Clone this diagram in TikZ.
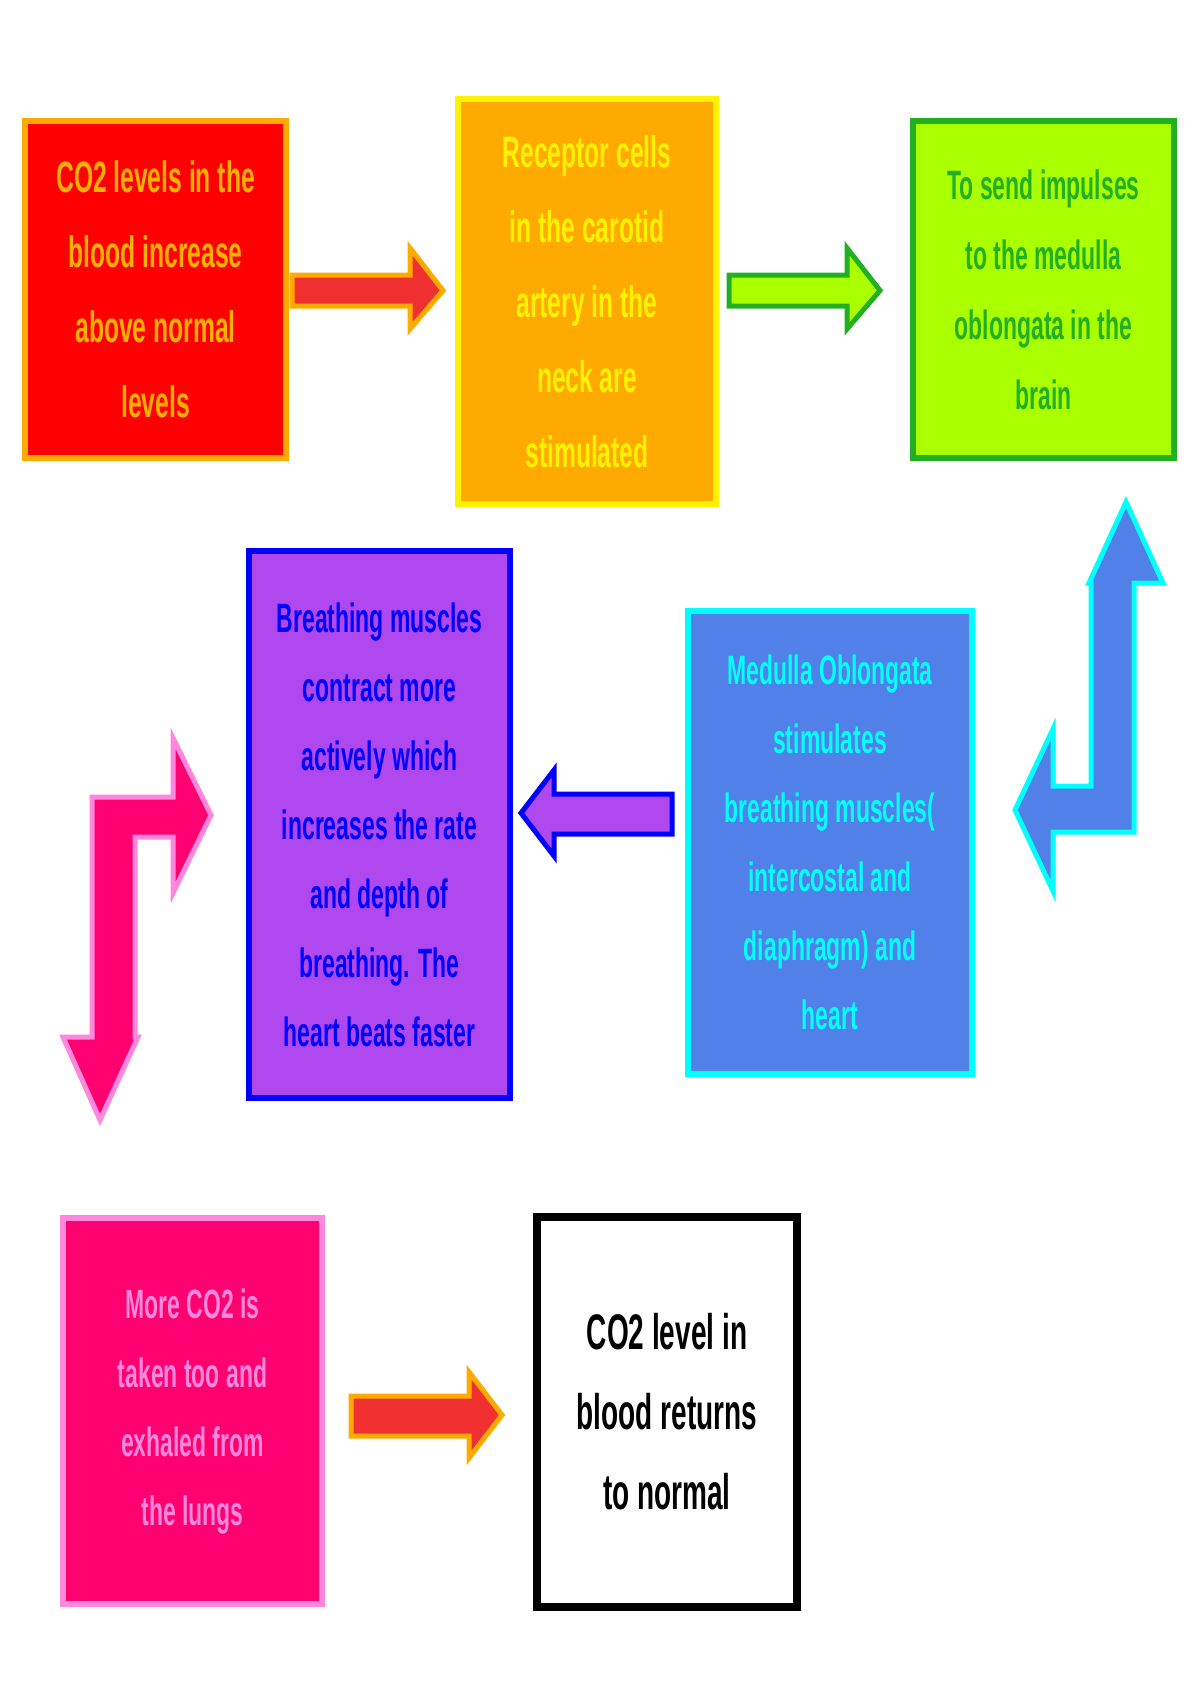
\documentclass[tikz,border=0pt]{standalone}
\usepackage{fontspec}
\setmainfont{Liberation Sans}
\newfontfamily\nar[FakeStretch=0.56]{Liberation Sans}
\begin{document}
\begin{tikzpicture}[x=1pt,y=-1pt,
 bx/.style={draw,line width=6pt,inner sep=0pt,align=center,font=\nar\bfseries\fontsize{44}{75}\selectfont},
 ar/.style={line width=5pt,line join=miter}]
\useasboundingbox (0,0) rectangle (1200,1694);
\definecolor{txo}{HTML}{FFB000}
\definecolor{lime}{HTML}{AAFF00}
\definecolor{gr}{HTML}{22B022}
\definecolor{pur}{HTML}{B048F0}
\definecolor{blu}{HTML}{5080E8}
\definecolor{cy}{HTML}{00FFFF}
\definecolor{pk}{HTML}{FF0070}
\definecolor{lpk}{HTML}{FF88DD}
\definecolor{aro}{HTML}{FFAA00}
\definecolor{rd}{HTML}{F03030}
\node[bx,fill=red,draw=aro,text=txo,minimum width=261pt,minimum height=337pt] (b1) at (155.5,289.5) {CO2 levels in the\\blood increase\\above normal\\levels};
\node[bx,fill=aro,draw=yellow,text=yellow,minimum width=258pt,minimum height=405pt] (b2) at (587,301.5) {Receptor cells\\in the carotid\\artery in the\\neck are\\stimulated};
\node[bx,fill=lime,draw=gr,text=gr,minimum width=261pt,minimum height=337pt,font=\nar\bfseries\fontsize{41}{70}\selectfont] (b3) at (1043.5,289.5) {To send impulses\\to the medulla\\oblongata in the\\brain};
\node[bx,fill=pur,draw=blue,text=blue,minimum width=261pt,minimum height=547pt,font=\nar\bfseries\fontsize{41}{69}\selectfont] (b4) at (379.5,824.5) {Breathing muscles\\contract more\\actively which\\increases the rate\\and depth of\\breathing. The\\heart beats faster};
\node[bx,fill=blu,draw=cy,text=cy,minimum width=284pt,minimum height=463pt,font=\nar\bfseries\fontsize{41}{69}\selectfont] (b5) at (830,842.5) {Medulla Oblongata\\stimulates\\breathing muscles(\\intercostal and\\diaphragm) and\\heart};
\node[bx,fill=pk,draw=lpk,text=lpk,minimum width=259pt,minimum height=386pt,font=\nar\bfseries\fontsize{41}{69}\selectfont] (b6) at (192.5,1411) {More CO2 is\\taken too and\\exhaled from\\the lungs};
\node[bx,fill=white,draw=black,line width=8pt,text=black,minimum width=260pt,minimum height=390pt,font=\nar\bfseries\fontsize{50}{80}\selectfont] (b7) at (667,1412) {CO2 level in\\blood returns\\to normal};
% straight arrows
\draw[ar,fill=rd,draw=aro] (292,275)--(410,275)--(410,248)--(443,290.5)--(410,329)--(410,306)--(292,306)--cycle;
\draw[ar,fill=lime,draw=gr] (729,275)--(847,275)--(847,248)--(880,290.5)--(847,329)--(847,306)--(729,306)--cycle;
\draw[ar,fill=pur,draw=blue] (672,794)--(554,794)--(554,770)--(521,813)--(554,856)--(554,834)--(672,834)--cycle;
\draw[ar,fill=rd,draw=aro] (351,1396)--(469,1396)--(469,1372)--(502,1415)--(469,1458)--(469,1436)--(351,1436)--cycle;
% elbow arrows
\draw[ar,fill=blu,draw=cy] (1015,810)--(1053,729)--(1053,786)--(1091,786)--(1091,583)--(1089,583)--(1126,502)--(1163,583)--(1134,583)--(1134,832)--(1053,832)--(1053,891)--cycle;
\draw[ar,fill=pk,draw=lpk] (211,815)--(173,738)--(173,797)--(92,797)--(92,1037)--(63,1037)--(100,1120)--(138,1037)--(135,1037)--(135,837)--(173,837)--(173,893)--cycle;
\end{tikzpicture}
\end{document}
